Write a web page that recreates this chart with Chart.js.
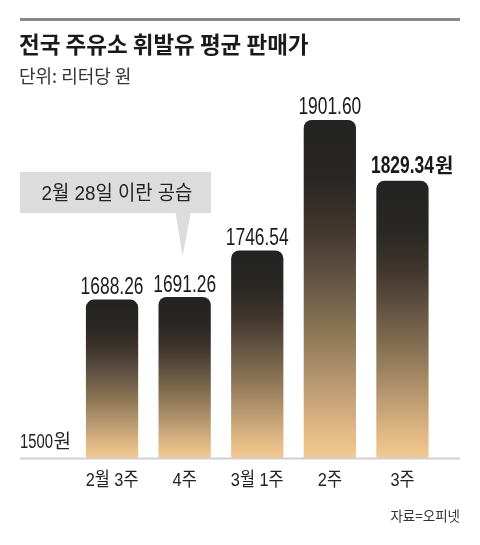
<!DOCTYPE html>
<html>
<head>
<meta charset="utf-8">
<script src="https://cdn.jsdelivr.net/npm/chart.js@4.4.1/dist/chart.umd.min.js"></script>
<style>
    html, body { margin: 0; padding: 0; background: #fff; }
    #wrap { width: 480px; height: 545px; position: relative; }
</style>
</head>
<body>
<div id="wrap"><canvas id="chart" width="480" height="545"></canvas></div>
<script>
// 전국 주유소 휘발유 평균 판매가 (원/리터)
const weeks = ['2월 3주', '4주', '3월 1주', '2주', '3주'];
const prices = [1688.26, 1691.26, 1746.54, 1901.60, 1829.34];
const priceLabels = ['1688.26', '1691.26', '1746.54', '1901.60', '1829.34'];
const baseValue = 1500;

const SANS = "'Liberation Sans', 'Noto Sans CJK KR', sans-serif";
const KR = "'Noto Sans CJK KR', sans-serif";

// 좁은 글씨 그리기 (가로 압축)
function narrowText(ctx, text, x, y, font, squeeze, align) {
    ctx.save();
    ctx.font = font;
    const w = ctx.measureText(text).width * squeeze;
    let left = x;
    if (align === 'center') left = x - w / 2;
    if (align === 'right') left = x - w;
    ctx.translate(left, y);
    ctx.scale(squeeze, 1);
    ctx.textAlign = 'left';
    ctx.textBaseline = 'alphabetic';
    ctx.fillText(text, 0, 0);
    ctx.restore();
    return w;
}

// 막대마다 위는 검정, 아래는 살구색
function barGradient(context) {
    const chart = context.chart;
    if (!chart.chartArea || context.dataIndex === undefined) return '#2a2a2a';
    const yScale = chart.scales.y;
    const top = yScale.getPixelForValue(prices[context.dataIndex]);
    const bottom = yScale.getPixelForValue(baseValue);
    const g = chart.ctx.createLinearGradient(0, top, 0, bottom);
    g.addColorStop(0, '#232323');
    g.addColorStop(0.18, '#292725');
    g.addColorStop(0.32, '#40362d');
    g.addColorStop(0.45, '#5f5040');
    g.addColorStop(0.62, '#8a7454');
    g.addColorStop(0.78, '#b89970');
    g.addColorStop(0.92, '#e2b985');
    g.addColorStop(1, '#f4c98f');
    return g;
}

const decorPlugin = {
    id: 'decor',
    beforeDraw(chart) {
        const ctx = chart.ctx;
        ctx.save();
        // 상단 선
        ctx.fillStyle = '#888';
        ctx.fillRect(20, 18, 440, 3);
        // 제목
        ctx.fillStyle = '#1a1a1a';
        ctx.textBaseline = 'alphabetic';
        ctx.font = "bold 22.5px " + KR;
        ctx.fillText('전국 주유소 휘발유 평균 판매가', 19, 53);
        ctx.fillStyle = '#333';
        ctx.font = "18px " + KR;
        ctx.fillText('단위: 리터당 원', 19, 83);
        ctx.restore();
    },
    afterDatasetsDraw(chart) {
        const ctx = chart.ctx;
        const meta = chart.getDatasetMeta(0);
        const xScale = chart.scales.x;
        const yScale = chart.scales.y;
        const baseY = yScale.getPixelForValue(baseValue);
        ctx.save();

        // 기준선
        ctx.fillStyle = '#d0d0d0';
        ctx.fillRect(20, baseY - 0.5, 440, 2);

        // 1500원
        ctx.fillStyle = '#222';
        const w0 = narrowText(ctx, '1500', 20, baseY - 10, "20px " + SANS, 0.74, 'left');
        ctx.font = "19px " + KR;
        ctx.textAlign = 'left';
        ctx.textBaseline = 'alphabetic';
        ctx.fillText('원', 20 + w0 + 0.5, baseY - 10);

        // x축 레이블
        weeks.forEach(function(lbl, i) {
            narrowText(ctx, lbl, xScale.getPixelForTick(i), baseY + 27.5, "19px " + SANS, 0.86, 'center');
        });

        // 값 레이블
        meta.data.forEach(function(bar, i) {
            const last = i === prices.length - 1;
            ctx.fillStyle = '#1a1a1a';
            if (last) {
                const w = narrowText(ctx, priceLabels[i], bar.x, bar.y - 8, "bold 24.5px " + SANS, 0.71, 'center');
                ctx.font = "bold 20px " + KR;
                ctx.textAlign = 'left';
                ctx.textBaseline = 'alphabetic';
                ctx.fillText('원', bar.x + w / 2 + 1, bar.y - 8);
            } else {
                narrowText(ctx, priceLabels[i], bar.x, bar.y - 5.5, "24.5px " + SANS, 0.71, 'center');
            }
        });

        // 말풍선
        const b2 = meta.data[1];
        ctx.fillStyle = '#dcdcdc';
        ctx.fillRect(20, 172, 191, 41);
        ctx.beginPath();
        ctx.moveTo(b2.x - 9, 213);
        ctx.lineTo(b2.x + 6, 213);
        ctx.lineTo(b2.x - 2, 256);
        ctx.closePath();
        ctx.fill();
        ctx.fillStyle = '#222';
        narrowText(ctx, '2월 28일 이란 공습', 117, 200, "20px " + SANS, 0.94, 'center');

        // 출처
        ctx.textAlign = 'right';
        ctx.textBaseline = 'alphabetic';
        ctx.fillStyle = '#333';
        ctx.font = "13.5px " + KR;
        ctx.fillText('자료=오피넷', 460, 521);
        ctx.restore();
    }
};

new Chart(document.getElementById('chart').getContext('2d'), {
    type: 'bar',
    data: {
        labels: weeks,
        datasets: [{
            data: prices,
            backgroundColor: barGradient,
            borderWidth: 0,
            borderSkipped: false,
            borderRadius: { topLeft: 8, topRight: 8, bottomLeft: 0, bottomRight: 0 },
            barPercentage: 0.72,
            categoryPercentage: 1
        }]
    },
    options: {
        responsive: false,
        animation: false,
        layout: {
            padding: { left: 75.75, right: 41.25, top: 104.5, bottom: 87 }
        },
        plugins: {
            legend: { display: false },
            tooltip: { enabled: false }
        },
        scales: {
            x: { display: false },
            y: {
                display: false,
                min: baseValue,
                max: 1920
            }
        }
    },
    plugins: [decorPlugin]
});
</script>
</body>
</html>
